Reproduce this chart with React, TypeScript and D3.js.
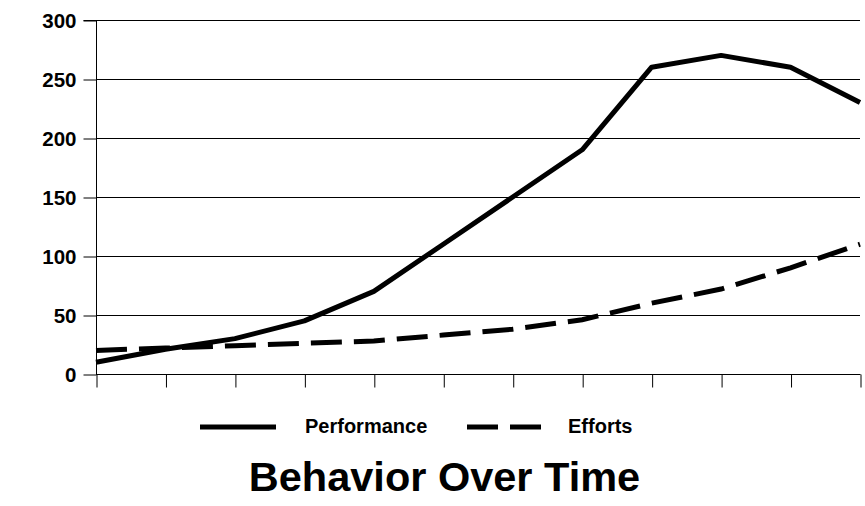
import React, { useEffect, useRef } from 'react'
import * as d3 from 'd3'

// time steps along the x axis (unlabelled)
const steps = [0, 1, 2, 3, 4, 5, 6, 7, 8, 9, 10, 11]
const performance = [10, 21, 30, 45, 70, 110, 150, 190, 260, 270, 260, 230]
const efforts = [20, 22, 24, 26, 28, 33, 38, 46, 60, 72, 90, 110]
const yTicks = [0, 50, 100, 150, 200, 250, 300]
const seriesNames = ['Performance', 'Efforts']
const title = 'Behavior Over Time'

function App() {
  const svgRef = useRef<SVGSVGElement>(null)

  useEffect(() => {
    const w = 865
    const h = 506
    const left = 96
    const right = 860
    const top = 20
    const bottom = 374
    const font = 'Arial, "Liberation Sans", sans-serif'

    const svg = d3.select(svgRef.current)
    svg.selectAll('*').remove()
    svg.attr('width', w).attr('height', h)

    const xScale = d3.scaleLinear().domain([0, steps.length - 1]).range([left, right])
    const yScale = d3.scaleLinear().domain([0, 300]).range([bottom, top])

    // horizontal gridlines
    svg.append('g')
      .selectAll('line')
      .data(yTicks)
      .join('line')
      .attr('x1', left)
      .attr('x2', right)
      .attr('y1', d => yScale(d) + 0.5)
      .attr('y2', d => yScale(d) + 0.5)
      .attr('stroke', '#000')
      .attr('stroke-width', 1)

    // y axis
    const yAxis = d3.axisLeft(yScale).tickValues(yTicks).tickSize(13).tickPadding(7)
    const gy = svg.append('g')
      .attr('transform', `translate(${left + 0.5},0.5)`)
      .call(yAxis)
    gy.select('.domain').attr('stroke', '#000').attr('d', `M-13,${top}H0V${bottom}`)
    gy.selectAll('.tick line').attr('stroke', '#000')
    gy.selectAll('.tick text')
      .attr('fill', '#000')
      .style('font-family', font)
      .style('font-size', '20.5px')
      .style('font-weight', 'bold')

    // x axis
    const xAxis = d3.axisBottom(xScale).tickValues(steps).tickSize(13).tickFormat(() => '')
    const gx = svg.append('g')
      .attr('transform', `translate(0.5,${bottom + 0.5})`)
      .call(xAxis)
    gx.select('.domain').attr('stroke', '#000').attr('d', `M${left},0H${right}`)
    gx.selectAll('.tick line').attr('stroke', '#000')

    const line = d3.line<number>()
      .x((d, i) => xScale(steps[i]))
      .y(d => yScale(d))

    svg.append('path')
      .datum(efforts)
      .attr('d', line)
      .attr('fill', 'none')
      .attr('stroke', '#000')
      .attr('stroke-width', 5)
      .attr('stroke-dasharray', '31 12')

    svg.append('path')
      .datum(performance)
      .attr('d', line)
      .attr('fill', 'none')
      .attr('stroke', '#000')
      .attr('stroke-width', 5)
      .attr('stroke-linejoin', 'round')

    // legend
    const legend = svg.append('g')
    const legendItems = [
      { name: seriesNames[0], x: 200, dash: null, tx: 305 },
      { name: seriesNames[1], x: 467, dash: '31 12', tx: 568 },
    ]
    legendItems.forEach(item => {
      legend.append('line')
        .attr('x1', item.x)
        .attr('x2', item.x + 76)
        .attr('y1', 427)
        .attr('y2', 427)
        .attr('stroke', '#000')
        .attr('stroke-width', 5)
        .attr('stroke-dasharray', item.dash)
      legend.append('text')
        .attr('x', item.tx)
        .attr('y', 433)
        .attr('fill', '#000')
        .style('font-family', font)
        .style('font-size', '20px')
        .style('font-weight', 'bold')
        .text(item.name)
    })

    svg.append('text')
      .attr('x', 444.5)
      .attr('y', 491)
      .attr('text-anchor', 'middle')
      .attr('fill', '#000')
      .style('font-family', font)
      .style('font-size', '41.5px')
      .style('font-weight', 'bold')
      .text(title)
  }, [])

  return (
    <div style={{ position: 'absolute', left: 0, top: 0, background: '#fff' }}>
      <svg ref={svgRef} style={{ display: 'block' }} />
    </div>
  )
}

export default App
